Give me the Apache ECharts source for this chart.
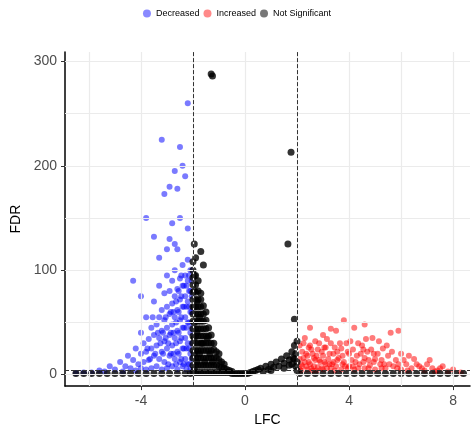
<!DOCTYPE html>
<html>
<head>
<meta charset="utf-8">
<script src="https://cdn.jsdelivr.net/npm/echarts@6/dist/echarts.min.js"></script>
<style>html,body{margin:0;padding:0;background:#fff}#Echarts{width:474px;height:432px}</style>
</head>
<body>
<div id="Echarts"></div>
<script>
// volcano plot data, flat [x, y, x, y, ...]
var decreased = [-2.1,5,-2.1,20,-2.1,40,-2.1,60,-2.1,80,-2.1,100,-2.2,10,-2.2,30,-2.2,50,-2.2,70,-2.2,90,-2.2,110,-2.3,15,-2.3,35,-2.3,55,-2.3,75,-2.3,95,-2.4,8,-2.4,25,-2.4,45,-2.4,65,-2.4,85,-2.4,105,-2.5,12,-2.5,32,-2.5,52,-2.5,72,-2.5,92,-2.6,5,-2.6,22,-2.6,42,-2.6,62,-2.6,82,-2.6,120,-2.7,15,-2.7,35,-2.7,55,-2.7,75,-2.7,100,-2.8,8,-2.8,28,-2.8,48,-2.8,68,-2.8,90,-2.9,18,-2.9,38,-2.9,58,-2.9,80,-2.9,130,-3.0,6,-3.0,25,-3.0,45,-3.0,65,-3.0,95,-3.1,12,-3.1,32,-3.1,52,-3.1,78,-3.2,5,-3.2,22,-3.2,42,-3.2,62,-3.3,15,-3.3,35,-3.3,55,-3.3,85,-3.4,8,-3.4,28,-3.4,48,-3.5,18,-3.5,38,-3.5,70,-3.6,6,-3.6,25,-3.6,45,-3.7,14,-3.7,34,-3.8,5,-3.8,22,-3.8,55,-3.9,12,-3.9,30,-4.0,6,-4.0,20,-4.0,40,-4.1,10,-4.2,4,-4.2,25,-4.3,14,-4.4,6,-4.5,18,-4.6,8,-4.7,3,-4.8,12,-5.0,5,-5.2,8,-5.4,3,-5.6,4,-5.9,2,-6.2,2,-6.5,1.5,
  -2.05,15,-2.05,45,-2.05,75,-2.15,25,-2.15,65,-2.15,95,-2.25,5,-2.25,45,-2.25,85,-2.35,25,-2.35,65,-2.45,15,-2.45,55,-2.45,95,-2.55,40,-2.55,80,-2.65,30,-2.65,70,-2.75,20,-2.75,60,-2.85,40,-2.95,30,-3.05,55,-3.15,40,-3.25,30,-3.45,20,-3.55,55,-3.75,25,
  -2.05,30,-2.05,60,-2.05,90,-2.15,10,-2.15,50,-2.15,80,-2.25,25,-2.25,65,-2.35,10,-2.35,45,-2.35,85,-2.45,35,-2.45,75,-2.55,20,-2.55,60,-2.65,10,-2.65,50,-2.75,40,-2.85,20,-2.85,60,-2.95,10,-3.05,35,-3.15,20,-3.35,40,-3.65,15,
  -2.2,260,-3.2,225,-2.5,218,-2.7,195,-2.4,200,-2.6,178,-2.9,180,-3.1,173,-3.8,150,-2.3,190,-3.5,132,-2.8,145,-3.0,120,-4.3,90,-4.0,75,-2.5,150,-2.2,140,-3.3,112,-2.7,125];
var increased = [2.1,5,2.1,15,2.1,28,2.2,8,2.2,22,2.3,12,2.3,35,2.4,5,2.4,18,2.5,10,2.5,28,2.6,4,2.6,20,2.7,14,2.7,32,2.8,7,2.8,24,2.9,12,3.0,5,3.0,18,3.0,38,3.1,10,3.1,26,3.2,15,3.3,6,3.3,30,3.4,12,3.4,20,3.5,8,3.5,42,3.6,16,3.7,5,3.7,25,3.8,12,3.9,30,4.0,8,4.0,20,4.1,14,4.2,5,4.2,45,4.3,18,4.4,10,4.5,28,4.6,6,4.6,16,4.7,22,4.8,9,4.9,35,5.0,5,5.0,15,5.2,10,5.3,25,5.4,6,5.5,18,5.6,40,5.7,8,5.8,14,6.0,5,6.0,20,6.2,10,6.4,6,6.5,15,6.7,8,6.9,4,7.0,10,7.2,6,7.4,4,7.6,8,7.8,3,8.0,5,8.3,2,
  2.15,10,2.25,30,2.35,20,2.45,12,2.55,24,2.65,8,2.75,18,2.85,30,2.95,22,3.05,12,3.15,34,3.25,20,3.35,10,3.45,26,3.55,14,3.65,30,3.75,18,3.85,8,3.95,22,4.05,32,4.15,24,4.25,12,4.35,30,4.45,20,4.55,12,4.65,34,4.75,14,4.85,24,4.95,12,5.1,20,5.15,32,5.25,14,5.35,10,5.45,28,5.65,22,5.9,10,6.1,14,6.3,18,6.6,10,7.1,14,7.5,6,
  2.15,4,2.25,16,2.35,8,2.45,26,2.55,6,2.65,16,2.75,4,2.85,14,2.95,6,3.05,26,3.15,6,3.25,10,3.45,4,3.55,22,3.75,10,3.95,6,4.15,8,4.35,6,4.55,24,4.75,6,4.95,20,5.25,6,5.55,10,5.85,6,6.25,4,6.8,6,7.3,3,
  3.8,52,4.6,48,2.5,45,5.9,42,3.3,44];
var notSignificant = [-2.0,2,-2.0,9,-2.0,16,-2.0,23,-2.0,30,-2.0,37,-2.0,44,-2.0,51,-2.0,58,-2.0,65,-2.0,72,-2.0,79,-2.0,86,-2.0,93,-2.0,100,-2.0,108,
  -1.9,2,-1.9,9,-1.9,16,-1.9,23,-1.9,30,-1.9,37,-1.9,44,-1.9,51,-1.9,58,-1.9,65,-1.9,72,-1.9,79,-1.9,86,-1.9,95,
  -1.8,2,-1.8,9,-1.8,16,-1.8,23,-1.8,30,-1.8,37,-1.8,44,-1.8,51,-1.8,58,-1.8,65,-1.8,72,-1.8,80,-1.8,90,
  -1.7,2,-1.7,9,-1.7,16,-1.7,23,-1.7,30,-1.7,37,-1.7,44,-1.7,51,-1.7,58,-1.7,65,-1.7,72,-1.7,78,
  -1.6,2,-1.6,9,-1.6,16,-1.6,23,-1.6,30,-1.6,37,-1.6,44,-1.6,51,-1.6,58,-1.6,66,
  -1.5,2,-1.5,9,-1.5,16,-1.5,23,-1.5,30,-1.5,37,-1.5,44,-1.5,52,-1.5,60,
  -1.4,2,-1.4,9,-1.4,16,-1.4,23,-1.4,30,-1.4,37,-1.4,45,
  -1.3,2,-1.3,9,-1.3,16,-1.3,23,-1.3,30,-1.3,38,
  -1.2,2,-1.2,9,-1.2,16,-1.2,24,-1.2,30,
  -1.1,2,-1.1,9,-1.1,16,-1.1,22,
  -1.0,2,-1.0,8,-1.0,14,-1.0,20,
  -0.9,2,-0.9,7,-0.9,12,-0.8,2,-0.8,6,-0.8,10,-0.7,2,-0.7,5,-0.6,2,-0.6,4,-0.5,1,-0.5,3,-0.4,1,-0.3,1,-0.2,1,-0.1,1,0,1,0.1,1,
  -1.95,5,-1.95,20,-1.95,35,-1.95,50,-1.95,65,-1.95,80,-1.95,95,-1.85,12,-1.85,40,-1.85,70,-1.75,20,-1.75,55,-1.65,30,-1.55,12,-1.45,35,-1.35,20,-1.25,12,
  0.2,2,0.3,3,0.4,4,0.5,5,0.6,6,0.7,3,0.8,8,0.9,5,1.0,10,1.0,4,1.1,7,1.2,12,1.3,8,1.4,15,1.5,6,1.5,11,1.6,18,1.7,9,1.7,14,1.8,22,1.8,10,1.85,16,1.9,28,1.9,15,1.95,8,1.95,20,2.0,32,2.0,4,2.0,12,
  -6.5,1,-6.2,1,-5.9,1,-5.6,1,-5.3,1,-5.0,1,-4.7,1,-4.4,1,-4.1,1,-3.8,1,-3.5,1,-3.2,1,-2.9,1,-2.6,1,-2.3,1,-2.1,1,
  2.1,1,2.4,1,2.7,1,3.0,1,3.3,1,3.6,1,3.9,1,4.2,1,4.5,1,4.8,1,5.1,1,5.4,1,5.7,1,6.0,1,6.3,1,6.6,1,6.9,1,7.2,1,7.5,1,7.8,1,8.1,1,8.4,1,
  -1.3,288,-1.25,286,1.77,213,1.65,125,1.9,53,-1.95,125,-1.7,118,-1.9,112,-1.6,105];
var xGrid = [-6, -4, -2, 0, 2, 4, 6, 8];
var yGrid = [0, 50, 100, 150, 200, 250, 300];
var xTicks = [-4, 0, 4, 8];
var yTicks = [0, 100, 200, 300];
var cutoffs = [-2, 2];
var fdrCut = 4;

function pairs(a) {
  var out = [];
  for (var i = 0; i < a.length; i += 2) out.push([a[i], a[i + 1]]);
  return out;
}

var gridLines = [];
xGrid.forEach(function (v) { gridLines.push({ xAxis: v }); });
yGrid.forEach(function (v) { gridLines.push({ yAxis: v }); });

var myChart = echarts.init(document.getElementById('Echarts'));

var option = {
  animation: false,
  textStyle: { fontFamily: 'Liberation Sans' },
  legend: {
    top: 4, left: 'center', itemWidth: 8, itemHeight: 8, itemGap: 4,
    textStyle: { fontSize: 9, color: '#000' },
    data: [
      { name: 'Decreased', icon: 'circle', itemStyle: { color: '#6b6bff' } },
      { name: 'Increased', icon: 'circle', itemStyle: { color: '#ff6b6b' } },
      { name: 'Not Significant', icon: 'circle', itemStyle: { color: '#555' } }
    ]
  },
  grid: { left: 65, right: 4, top: 52, bottom: 42 },
  xAxis: {
    type: 'value', min: -6.92, max: 8.65,
    name: 'LFC', nameLocation: 'middle', nameGap: 24,
    nameTextStyle: { fontSize: 14, color: '#000' },
    axisLine: { onZero: false, lineStyle: { color: '#000', width: 1.5 } },
    axisTick: { show: true, customValues: xTicks, length: 4, lineStyle: { color: '#333' } },
    axisLabel: { customValues: xTicks, fontSize: 14, color: '#4d4d4d' },
    splitLine: { show: false }
  },
  yAxis: {
    type: 'value', min: -11, max: 309,
    name: 'FDR', nameLocation: 'middle', nameGap: 40, nameRotate: 90,
    nameTextStyle: { fontSize: 14, color: '#000' },
    axisLine: { show: true, onZero: false, lineStyle: { color: '#000', width: 1.5 } },
    axisTick: { show: true, customValues: yTicks, length: 4, lineStyle: { color: '#333' } },
    axisLabel: { customValues: yTicks, fontSize: 14, color: '#4d4d4d' },
    splitLine: { show: false }
  },
  series: [
    {
      type: 'scatter', data: [], silent: true, z: 0,
      markLine: { silent: true, symbol: ['none', 'none'], label: { show: false },
        lineStyle: { color: '#ebebeb', type: 'solid', width: 1.2 }, data: gridLines }
    },
    { name: 'Decreased', type: 'scatter', data: pairs(decreased), symbolSize: 6,
      itemStyle: { color: 'rgba(0,0,255,0.65)' }, z: 2 },
    { name: 'Increased', type: 'scatter', data: pairs(increased), symbolSize: 6,
      itemStyle: { color: 'rgba(255,0,0,0.65)' }, z: 2 },
    { name: 'Not Significant', type: 'scatter', data: pairs(notSignificant), symbolSize: 7,
      itemStyle: { color: '#000' }, z: 3 },
    {
      type: 'scatter', data: [], silent: true, z: 4,
      markLine: { silent: true, symbol: ['none', 'none'], label: { show: false },
        lineStyle: { color: '#333', type: 'dashed', width: 1 },
        data: cutoffs.map(function (v) { return { xAxis: v }; }).concat([{ yAxis: fdrCut }]) }
    }
  ]
};

myChart.setOption(option);
</script>
</body>
</html>
